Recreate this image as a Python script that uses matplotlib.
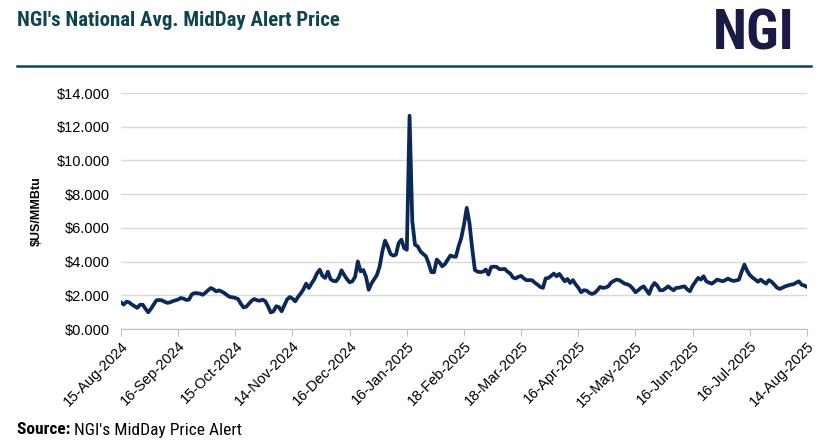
import matplotlib
matplotlib.use("Agg")
import matplotlib.pyplot as plt
from matplotlib import font_manager
import numpy as np

# tick labels, one every 21 trading days
tick_labels = ['15-Aug-2024', '16-Sep-2024', '15-Oct-2024', '14-Nov-2024',
               '16-Dec-2024', '16-Jan-2025', '18-Feb-2025', '18-Mar-2025',
               '16-Apr-2025', '15-May-2025', '16-Jun-2025', '16-Jul-2025',
               '14-Aug-2025']

# daily national avg. midday price ($/MMBtu), 21 trading days per row
prices = [
    1.58, 1.45, 1.62, 1.58, 1.45, 1.35, 1.25, 1.44, 1.44, 1.20, 0.99, 1.20, 1.45, 1.70, 1.72, 1.70, 1.62, 1.55, 1.58, 1.65, 1.70,
    1.75, 1.84, 1.80, 1.72, 1.75, 2.05, 2.13, 2.12, 2.10, 2.03, 2.15, 2.30, 2.43, 2.35, 2.23, 2.29, 2.22, 2.13, 2.00, 1.90, 1.88,
    1.84, 1.78, 1.50, 1.28, 1.32, 1.50, 1.68, 1.78, 1.70, 1.68, 1.74, 1.65, 1.35, 0.98, 1.05, 1.35, 1.30, 1.05, 1.40, 1.75, 1.90,
    1.80, 1.64, 1.90, 2.10, 2.35, 2.69, 2.43, 2.70, 2.95, 3.30, 3.52, 3.15, 3.03, 3.40, 2.95, 2.85, 2.83, 3.05, 3.48, 3.20, 2.96,
    2.77, 2.83, 3.10, 4.01, 3.42, 3.50, 3.10, 2.33, 2.70, 2.95, 3.20, 3.70, 4.60, 5.24, 4.90, 4.45, 4.35, 4.41, 5.10, 5.30, 4.80,
    4.70, 12.65, 6.40, 5.00, 4.90, 4.60, 4.45, 4.32, 3.90, 3.37, 3.37, 4.12, 3.95, 3.72, 3.85, 4.10, 4.36, 4.30, 4.28, 4.90, 5.40,
    6.20, 7.19, 6.30, 4.80, 3.50, 3.40, 3.37, 3.40, 3.53, 3.23, 3.68, 3.70, 3.68, 3.55, 3.55, 3.56, 3.40, 3.29, 3.05, 3.00, 3.10,
    3.15, 3.00, 2.89, 2.90, 2.89, 2.75, 2.63, 2.50, 2.44, 3.00, 3.03, 3.15, 3.29, 3.13, 3.27, 3.05, 2.83, 2.97, 2.73, 2.90, 2.65,
    2.45, 2.18, 2.30, 2.28, 2.15, 2.08, 2.14, 2.30, 2.50, 2.44, 2.46, 2.53, 2.75, 2.85, 2.93, 2.90, 2.80, 2.69, 2.65, 2.57, 2.40,
    2.18, 2.30, 2.44, 2.53, 2.30, 2.08, 2.50, 2.73, 2.57, 2.30, 2.30, 2.40, 2.53, 2.40, 2.30, 2.44, 2.45, 2.50, 2.53, 2.35, 2.24,
    2.57, 2.80, 3.03, 2.93, 3.13, 2.83, 2.75, 2.69, 2.80, 2.93, 2.88, 2.83, 2.90, 2.99, 2.90, 2.85, 2.88, 2.93, 3.40, 3.82, 3.45,
    3.20, 3.05, 2.93, 2.80, 2.93, 2.80, 2.69, 2.90, 2.80, 2.63, 2.45, 2.38, 2.45, 2.53, 2.58, 2.63, 2.65, 2.75, 2.83, 2.63, 2.58,
    2.50,
]


def narrow_font(bold, size):
    """Look for a condensed sans font file, else plain Liberation Sans"""
    fonts = font_manager.fontManager.ttflist
    want = 'bold' if bold else 'normal'
    for pick in ['Liberation Sans Narrow', 'Roboto Condensed', 'Open Sans Condensed',
                 'DejaVu Sans Condensed', 'Noto Sans Condensed', 'DejaVu Sans']:
        for f in fonts:
            name_ok = f.name == pick or pick.lower() in f.fname.lower().replace('-', ' ')
            cond = ('narrow' in f.fname.lower() or 'condensed' in f.fname.lower()
                    or f.stretch in ('condensed', 'semi-condensed'))
            is_bold = f.weight in ('bold', 700, 600, 'semibold', 'demibold') or 'bold' in f.fname.lower()
            italic = 'italic' in f.fname.lower() or 'oblique' in f.fname.lower()
            if name_ok and cond and is_bold == bold and not italic:
                return font_manager.FontProperties(fname=f.fname, size=size), True
    return font_manager.FontProperties(family=['Liberation Sans', 'DejaVu Sans'], weight=want,
                                       size=size), False


plt.rcParams['font.family'] = ['Liberation Sans', 'DejaVu Sans']

title_color = '#0e4452'
line_color = '#0b2859'
grid_color = '#d9d9d9'

fig = plt.figure(figsize=(8.28, 4.47), dpi=100)
ax = fig.add_axes([121 / 828, 1 - 329 / 447, (807 - 121) / 828, (329 - 93) / 447])

x = np.arange(len(prices))
ax.plot(x, prices, color=line_color, lw=2.7, solid_joinstyle='round')

ax.set_xlim(0, len(prices) - 1)
ax.set_ylim(0, 14)
ax.set_yticks(np.arange(0, 14.1, 2))
ax.set_yticklabels(['${:.3f}'.format(v) for v in np.arange(0, 14.1, 2)], fontsize=10.5)
ax.set_xticks(np.arange(0, len(prices), 21))
ax.set_xticklabels(tick_labels, rotation=45, ha='right', rotation_mode='anchor', fontsize=10.5)
ax.tick_params(axis='y', length=0, pad=8)
ax.tick_params(axis='x', length=5, color='#bfbfbf', pad=2)
ax.grid(axis='y', color=grid_color, lw=1)
ax.set_axisbelow(True)
for s in ['top', 'right', 'left']:
    ax.spines[s].set_visible(False)
ax.spines['bottom'].set_color('#bfbfbf')
ax.set_ylabel('$US/MMBtu', fontsize=9, fontweight='bold', labelpad=10)

# header
fp_title, cond = narrow_font(True, 15)
if not cond:
    fp_title.set_size(14)
fig.text(17 / 828, 1 - 21 / 447, "NGI's National Avg. MidDay Alert Price", fontproperties=fp_title,
         color=title_color, va='center', ha='left')
fp_logo, cond = narrow_font(True, 40)
if not cond:
    fp_logo.set_size(32)
fig.text(795 / 828, 1 - 35 / 447, 'NGI', fontproperties=fp_logo,
         color='#1b1a44', va='center', ha='right')
fig.add_artist(plt.Line2D([17 / 828, 811 / 828], [1 - 66 / 447] * 2, color=title_color, lw=1.8))

# source
fp_src_b, cond = narrow_font(True, 12.5)
fp_src, _ = narrow_font(False, 12.5)
if not cond:
    fp_src_b.set_size(10.5)
    fp_src.set_size(10.5)
t = fig.text(17 / 828, 1 - 430 / 447, 'Source: ', fontproperties=fp_src_b, va='center', ha='left')
fig.canvas.draw()
bb = t.get_window_extent()
fig.text(bb.x1 / 828, 1 - 430 / 447, "NGI's MidDay Price Alert", fontproperties=fp_src,
         va='center', ha='left')

fig.savefig('out.png', dpi=100)
